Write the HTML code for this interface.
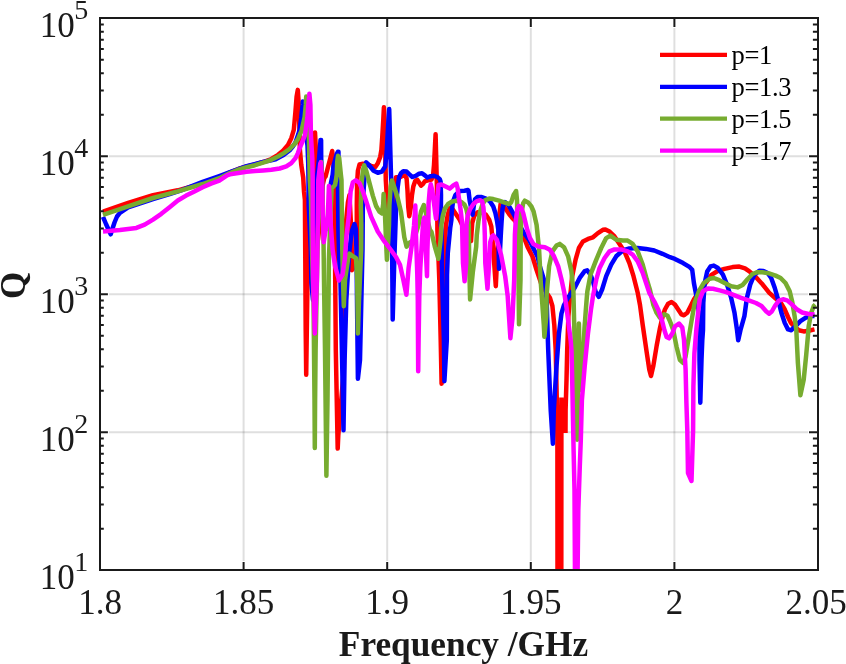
<!DOCTYPE html><html><head><meta charset="utf-8"><title>Q vs Frequency</title>
<style>html,body{margin:0;padding:0;background:#fff;}svg{display:block;font-family:"Liberation Serif",serif;}</style></head><body>
<svg width="846" height="664" viewBox="0 0 846 664">
<rect width="846" height="664" fill="#fff"/>
<g stroke="#000" stroke-opacity="0.125" stroke-width="2" fill="none"><path d="M243.6 28V561"/><path d="M387.2 28V561"/><path d="M530.8 28V561"/><path d="M674.4 28V561"/><path d="M109 432.3H808"/><path d="M109 294.3H808"/><path d="M109 156.3H808"/></g>
<clipPath id="c"><rect x="100" y="18" width="718" height="552"/></clipPath>
<g clip-path="url(#c)" fill="none" stroke-width="4.5" stroke-linejoin="round" stroke-linecap="butt">
<path d="M103.0 211.6L128.1 203.0L153.0 195.2L177.8 190.3L202.7 183.5L219.3 177.7L230.0 172.3L238.3 169.0L246.6 166.5L254.9 164.5L263.1 162.0L271.4 159.0L278.1 154.8L283.0 150.7L288.0 144.9L291.3 138.2L293.8 129.9L295.3 113.1L296.6 96.6L297.8 89.9L298.7 103.1L299.4 128.0L299.9 149.5L301.2 164.4L303.2 177.7L304.0 191.4L304.9 199.7L305.3 260.0L305.7 330.0L306.2 374.7L307.5 280.0L308.2 225.0L310.0 195.0L313.5 182.0L314.2 158.0L314.5 141.6L315.0 132.4L315.9 149.9L316.4 180.0L317.0 215.0L318.0 240.0L320.0 221.0L321.5 205.0L322.5 186.0L324.3 178.0L325.6 176.4L332.2 151.0L333.5 165.0L334.5 187.0L334.9 240.0L335.8 350.0L337.7 448.6L338.3 435.0L343.8 370.0L345.3 300.0L345.0 250.0L345.5 227.3L347.9 202.5L349.5 195.0L350.5 215.0L351.5 233.0L351.8 255.0L352.0 270.2L354.5 266.0L356.5 258.0L356.8 240.0L356.8 205.0L357.1 183.1L357.9 170.7L359.5 164.5L362.9 163.7L367.0 164.1L372.0 166.2L375.3 167.0L377.8 163.3L380.2 157.0L381.4 150.0L382.3 136.3L383.3 119.7L383.9 107.3L384.5 120.0L385.2 150.0L385.8 180.0L387.3 205.0L389.5 225.0L391.5 235.0L394.0 195.0L396.0 177.3L400.0 177.3L402.5 175.8L405.0 175.4L406.6 178.3L407.5 190.7L408.3 207.3L409.3 216.2L410.8 207.3L412.0 194.9L413.3 186.6L415.3 180.8L417.4 179.9L419.5 183.3L421.1 185.7L422.8 184.1L424.9 181.2L428.2 180.4L431.5 179.5L433.1 175.0L434.0 165.0L434.8 150.0L435.6 134.2L436.0 150.0L436.5 170.0L437.2 200.0L437.4 230.0L439.3 279.7L440.7 340.0L441.6 383.8L442.8 340.0L444.5 270.0L445.0 240.0L446.0 225.0L447.6 215.6L449.5 208.5L451.5 207.5L454.7 212.3L459.7 219.7L465.0 231.0L469.0 240.0L471.0 241.0L471.5 233.0L472.2 223.1L474.3 215.6L477.6 212.3L481.7 212.3L485.9 214.8L489.2 219.8L491.3 226.4L492.1 235.0L493.6 254.9L495.8 286.2L496.9 263.1L497.7 246.6L499.1 229.7L499.6 213.1L500.6 204.0L502.5 204.5L505.8 209.0L509.1 214.0L512.4 218.1L514.9 220.6L520.0 230.0L524.3 238.3L527.6 247.0L532.5 256.5L536.6 270.0L541.0 283.0L546.0 292.0L549.9 297.7L552.4 306.0L554.3 324.9L555.7 350.0L556.8 400.0L557.4 440.0L557.5 580.0M561.3 580.0L561.4 397.5M565.5 433.0L565.6 410.0L566.5 380.0L567.2 350.0L568.4 316.0L569.8 300.0L572.2 276.2L575.6 259.6L578.9 248.0L583.0 241.4L588.0 238.9L593.0 237.3L597.9 233.1L602.9 229.8L605.4 229.5L609.5 231.5L614.5 236.4L619.5 243.9L624.4 251.4L629.4 263.0L633.5 276.2L637.7 292.8L640.0 305.0L642.7 324.9L646.8 353.0L649.3 369.6L651.0 376.0L653.4 365.5L656.7 345.5L660.0 328.0L662.5 317.0L664.9 309.5L668.2 303.7L671.5 302.0L674.9 304.5L678.2 309.5L681.5 314.4L684.0 315.3L687.3 312.8L690.6 306.2L693.9 299.5L700.0 290.0L707.0 281.3L711.5 274.8L717.7 271.0L724.4 268.9L732.6 267.1L739.3 266.6L745.0 268.4L749.4 271.4L756.0 277.2L762.7 284.6L769.3 292.9L775.7 298.5L780.7 302.8L784.5 309.0L788.0 317.0L791.0 323.0L793.8 326.1L798.8 330.2L803.7 331.4L808.7 330.7L814.5 329.4" stroke="#ff0000"/>
<path d="M103.0 216.8L106.0 224.0L110.7 234.3L114.5 222.5L117.0 216.5L119.9 212.8L128.1 207.4L153.0 199.1L169.6 194.2L181.1 190.4L202.7 181.8L219.3 176.0L230.0 172.0L246.6 166.2L263.1 161.9L269.0 160.8L275.6 159.3L283.9 154.7L289.7 150.2L293.0 146.2L295.5 142.4L298.4 134.1L299.6 130.0L301.3 117.3L302.6 104.9L302.8 101.5L305.0 125.0L307.5 145.7L308.2 162.3L308.5 180.0L308.7 205.0L310.8 250.0L311.4 283.0L313.0 300.0L315.0 230.0L316.0 195.0L316.6 180.0L319.1 158.1L320.4 141.6L320.5 140.0L321.1 140.0L321.2 158.0L322.0 180.0L322.8 215.0L323.7 228.0L326.0 229.0L327.8 220.0L329.5 216.0L330.3 205.0L330.9 183.3L332.6 175.0L333.4 166.4L336.7 154.0L337.9 151.8L338.5 151.8L338.0 187.4L338.4 230.0L339.2 258.1L340.5 283.0L342.1 360.0L343.5 430.2L344.6 360.0L346.3 300.0L349.2 252.3L351.7 231.6L354.5 224.0L355.8 229.0L356.6 255.0L357.0 300.0L357.9 378.8L360.0 360.0L361.8 280.0L362.5 250.0L362.7 225.0L362.9 200.0L364.3 180.0L365.3 166.0L366.2 162.4L369.5 165.7L373.6 170.7L377.8 172.8L381.9 171.5L385.2 166.6L386.7 152.0L388.0 128.0L389.2 109.0L389.8 130.0L390.3 150.0L391.0 175.0L391.7 190.0L392.2 260.0L392.7 319.4L394.3 260.0L396.2 205.0L397.6 188.0L399.0 177.5L401.0 173.3L403.3 171.3L406.6 171.5L409.1 174.1L412.4 177.0L415.7 175.8L419.1 173.7L422.0 173.3L424.9 175.4L427.3 177.5L430.7 176.2L434.0 175.8L437.3 177.0L439.8 179.1L440.6 181.6L441.0 194.9L440.8 225.0L441.4 230.0L442.2 279.7L443.9 340.0L444.4 381.2L446.8 340.0L447.0 275.0L447.8 253.0L450.2 228.0L451.4 220.0L451.8 211.4L453.0 201.5L455.5 194.9L459.7 191.1L464.6 190.7L467.9 189.9L468.5 190.8L469.7 200.7L471.4 209.0L472.6 214.8L473.9 204.9L475.1 199.1L477.6 197.0L481.7 197.0L485.9 198.6L490.0 201.5L493.3 206.5L495.4 213.1L497.1 221.4L498.3 229.7L499.0 268.8L500.2 246.6L500.8 235.0L501.6 221.4L502.5 209.0L503.7 203.2L504.9 202.0L508.3 204.9L511.6 210.7L514.9 216.5L520.0 226.0L524.0 233.0L529.2 240.0L534.2 249.9L537.5 256.5L539.9 266.3L544.9 282.8L546.6 299.4L548.2 349.7L550.7 410.0L552.9 443.8L553.8 410.0L556.5 366.3L559.0 333.1L561.5 313.3L564.0 305.0L568.1 297.7L574.7 287.8L579.7 277.9L584.7 271.2L587.2 270.4L590.5 274.6L593.0 281.2L595.4 291.1L598.8 296.9L602.1 289.5L606.2 276.2L611.2 264.6L616.2 256.3L622.8 250.5L629.4 248.4L637.7 248.0L646.0 248.9L654.3 250.5L662.5 253.8L670.0 257.2L674.9 258.9L683.1 263.1L689.8 267.2L692.2 269.7L693.9 283.0L696.4 296.2L698.9 312.8L699.5 330.0L699.5 360.0L700.3 402.7L701.5 360.0L702.3 340.0L703.0 330.0L703.3 302.8L704.7 283.0L707.2 271.4L710.5 266.4L713.8 265.6L717.9 268.0L722.9 274.7L727.0 284.6L731.2 297.9L734.5 312.8L737.0 330.0L738.2 340.2L740.5 330.0L744.4 316.1L746.9 297.9L750.2 284.6L754.4 274.7L759.3 270.8L763.5 271.0L767.6 273.0L771.2 278.0L774.8 288.0L778.1 299.6L781.4 312.8L784.7 322.8L788.0 329.4L791.3 330.2L795.5 326.1L800.4 321.1L805.4 317.8L810.4 316.1L814.5 316.1" stroke="#0000ff"/>
<path d="M103.0 214.9L128.1 206.3L153.0 198.0L177.8 191.4L202.7 184.0L219.3 178.2L230.0 173.0L238.3 169.7L246.6 167.2L254.9 165.2L263.1 162.7L271.4 159.8L278.1 156.5L283.9 153.1L289.7 149.0L294.6 144.0L297.9 139.1L300.0 134.1L301.5 131.0L304.6 117.3L305.8 104.9L306.2 96.6L307.3 115.0L308.6 130.0L309.0 141.6L309.3 158.1L309.8 180.0L311.0 200.0L312.0 250.0L313.5 300.0L314.0 350.0L314.5 400.0L314.8 447.9L315.1 400.0L315.6 350.0L316.5 300.0L318.0 230.0L320.0 180.0L321.2 162.0L322.5 190.0L323.5 240.0L324.0 280.0L325.0 350.0L326.4 475.7L327.5 400.0L328.5 300.0L328.9 260.0L330.5 215.0L331.6 188.3L335.0 185.0L336.0 180.0L336.7 175.0L337.2 162.0L338.0 155.7L339.2 158.1L340.9 174.7L341.5 180.0L341.7 200.0L342.3 250.0L343.0 280.0L343.8 306.2L345.0 280.0L348.5 256.0L349.3 253.6L353.3 256.5L356.0 258.1L357.2 280.0L357.9 333.5L359.0 300.0L361.2 250.0L361.3 225.0L360.8 205.0L361.6 183.1L362.9 170.7L364.1 165.2L366.2 170.7L369.5 183.1L372.8 195.6L376.1 206.0L379.4 211.6L381.9 213.3L383.2 204.1L383.6 194.0L384.8 210.0L386.0 240.0L386.9 259.8L388.3 240.0L389.0 225.0L389.4 205.0L390.6 187.3L391.9 180.5L394.3 187.3L397.7 198.0L401.0 212.0L404.3 237.3L406.6 246.6L409.1 243.0L412.5 241.0L416.0 233.0L418.4 225.5L421.1 211.4L423.8 205.0L425.3 209.8L426.5 216.4L429.8 229.4L431.5 232.0L434.8 246.6L438.4 258.8L440.6 240.0L441.4 225.0L442.7 216.4L444.7 208.9L448.1 204.0L452.2 201.5L456.3 200.7L461.3 201.9L464.6 204.8L466.3 208.9L467.9 216.4L468.8 225.0L469.2 263.1L470.1 299.4L472.9 271.4L476.2 246.6L476.8 235.0L478.4 221.4L480.1 211.5L482.6 204.0L485.1 200.3L489.2 198.6L493.3 199.1L499.1 200.7L504.1 202.4L509.1 204.0L511.2 202.4L513.6 194.9L516.1 191.0L517.0 200.0L517.5 230.0L518.5 280.0L519.0 324.3L520.5 280.0L520.7 235.0L521.5 213.1L523.2 203.2L524.8 200.7L528.1 202.4L531.4 206.5L533.6 211.5L536.6 224.9L539.1 249.7L540.8 282.8L542.4 305.0L543.8 324.9L544.4 336.8L546.3 316.0L546.6 295.0L549.1 266.3L552.4 251.4L556.5 245.6L559.8 243.9L564.0 247.2L568.1 256.3L571.4 271.2L573.4 291.1L574.1 320.0L574.8 350.0L576.0 400.0L577.2 439.7L578.0 400.0L578.5 350.0L578.9 323.5L579.5 350.0L580.5 390.0L582.0 370.0L583.5 350.0L584.5 328.1L585.7 311.6L587.0 295.0L587.4 291.1L590.5 274.6L596.3 259.6L601.2 248.0L606.2 238.1L610.4 235.6L616.2 239.8L622.8 240.6L627.7 240.6L632.7 243.9L637.7 251.4L642.7 264.6L646.8 279.5L650.0 290.0L653.4 305.0L656.6 312.8L659.9 317.7L664.1 314.3L667.4 315.5L669.9 321.0L673.2 329.9L676.5 346.5L679.8 359.8L683.1 363.0L685.6 356.4L688.9 336.6L691.5 321.0L694.7 302.8L698.9 291.2L703.8 283.0L709.6 278.8L713.8 278.0L717.9 279.6L724.6 283.0L731.2 286.3L737.6 287.4L742.6 285.0L747.5 279.2L752.5 274.0L757.4 272.2L762.3 272.2L769.0 273.4L775.6 275.6L780.6 278.0L785.5 283.0L789.7 291.3L792.1 301.2L794.6 316.1L796.3 330.0L797.9 363.1L800.4 395.3L803.7 379.7L806.2 354.9L808.0 335.0L808.7 326.1L811.2 312.8L813.7 306.2L815.3 304.6" stroke="#77ac30"/>
<path d="M103.0 231.5L119.9 230.0L136.4 227.9L144.7 224.6L153.0 219.6L161.3 213.8L169.6 207.2L177.8 200.5L186.1 195.6L194.4 191.4L202.7 187.3L211.0 183.6L219.3 180.6L227.5 175.2L230.0 174.3L238.3 173.0L246.6 171.8L254.9 171.0L263.1 170.4L271.4 169.7L279.7 168.5L286.3 166.4L291.3 163.1L295.5 158.1L297.9 153.1L300.0 147.3L302.5 141.5L305.0 135.0L307.5 117.3L308.3 104.9L309.2 96.5L309.4 93.7L310.4 104.9L310.9 135.0L312.3 158.1L312.7 180.0L312.7 230.0L313.1 280.0L314.8 333.5L316.9 280.0L317.7 230.0L318.3 180.0L320.2 163.9L320.8 162.4L322.0 180.0L322.8 215.0L323.7 242.2L326.5 225.0L327.8 216.0L328.4 200.0L328.9 186.0L329.7 199.9L330.9 227.0L332.6 249.9L335.1 266.4L338.4 278.0L338.8 280.5L342.5 274.7L345.0 258.1L346.5 236.0L348.8 216.6L349.8 203.0L350.6 191.4L352.9 182.3L355.8 180.2L359.5 183.1L362.9 191.4L365.8 200.0L371.1 216.6L377.8 231.5L384.4 241.4L391.0 250.0L396.0 257.0L400.0 264.8L403.3 279.7L406.4 294.7L408.6 268.0L411.6 246.4L414.0 226.0L414.8 214.0L415.3 205.5L415.6 215.0L415.8 230.0L416.5 250.0L417.3 275.0L417.8 300.0L418.2 371.3L418.6 340.0L419.3 295.0L420.3 268.0L421.5 248.0L422.6 230.0L423.4 221.0L424.3 217.5L425.0 225.0L425.8 250.0L426.5 265.0L427.0 276.2L427.4 250.0L428.4 220.0L428.6 203.1L429.8 189.0L430.8 184.3L432.3 190.7L434.0 203.1L435.2 213.0L436.0 218.7L436.9 211.4L437.7 194.9L438.5 185.0L441.4 184.5L445.6 186.6L449.7 188.6L453.0 185.7L456.3 183.5L457.6 188.0L458.8 197.3L460.5 208.9L462.0 222.0L463.0 263.1L464.6 281.2L466.3 263.1L466.5 225.0L467.7 215.6L470.1 209.0L473.5 204.0L476.8 201.1L480.1 200.3L482.2 201.5L483.4 207.3L484.2 217.3L484.8 235.0L485.3 263.1L487.5 288.7L489.1 263.1L490.3 242.0L492.0 236.5L493.3 235.3L496.9 239.9L501.1 254.9L505.2 276.4L507.7 296.3L509.3 321.1L510.4 338.2L512.5 318.0L514.2 279.7L514.9 235.0L515.7 221.4L517.4 209.0L519.0 206.0L521.1 207.5L523.2 213.1L525.2 221.4L527.3 230.0L530.0 238.1L533.3 243.9L538.3 246.4L544.9 247.2L549.9 249.7L554.0 256.3L558.2 266.3L561.5 279.5L564.3 292.8L566.5 307.4L568.6 324.0L570.7 340.6L571.5 350.0L572.2 380.0L572.6 400.0L573.6 450.0L574.5 490.0L575.0 580.0L577.5 580.0L578.3 510.0L579.8 466.0L580.8 440.0L581.9 400.0L584.7 366.3L588.0 333.1L590.9 310.0L593.0 296.1L596.3 279.5L599.6 267.9L604.6 258.0L609.5 251.4L614.5 249.4L621.1 249.4L627.7 251.4L632.7 254.7L637.7 261.3L642.7 272.9L646.0 282.8L649.3 292.8L654.3 301.5L658.4 310.0L662.0 320.5L664.5 330.5L666.6 337.0L669.1 338.3L672.4 333.3L674.9 326.5L679.0 323.5L682.3 327.5L684.0 339.9L685.6 369.7L686.4 402.8L687.3 430.0L688.0 473.0L691.5 481.0L693.1 430.0L693.4 386.3L694.4 353.1L696.4 329.0L698.0 314.0L699.7 299.5L703.0 291.2L708.0 288.4L713.0 288.8L719.6 290.4L726.2 292.1L732.8 294.6L741.1 297.9L749.4 300.6L756.0 303.0L761.5 306.0L766.3 311.5L769.1 313.6L771.8 311.5L775.2 305.5L778.9 300.6L783.0 299.3L787.2 300.4L792.1 304.6L797.1 309.5L802.1 312.5L808.7 314.0L814.5 314.5" stroke="#ff00ff"/>
</g>
<path d="M243.6 570v-7.9M243.6 18v9.0M387.2 570v-7.9M387.2 18v9.0M530.8 570v-7.9M530.8 18v9.0M674.4 570v-7.9M674.4 18v9.0M100 528.8h3.8M818 528.8h-5.1M100 504.5h3.8M818 504.5h-5.1M100 487.2h3.8M818 487.2h-5.1M100 473.8h3.8M818 473.8h-5.1M100 462.9h3.8M818 462.9h-5.1M100 453.7h3.8M818 453.7h-5.1M100 445.7h3.8M818 445.7h-5.1M100 438.6h3.8M818 438.6h-5.1M100 432.3h7.9M818 432.3h-9.0M100 390.8h3.8M818 390.8h-5.1M100 366.5h3.8M818 366.5h-5.1M100 349.2h3.8M818 349.2h-5.1M100 335.8h3.8M818 335.8h-5.1M100 324.9h3.8M818 324.9h-5.1M100 315.7h3.8M818 315.7h-5.1M100 307.7h3.8M818 307.7h-5.1M100 300.6h3.8M818 300.6h-5.1M100 294.3h7.9M818 294.3h-9.0M100 252.8h3.8M818 252.8h-5.1M100 228.5h3.8M818 228.5h-5.1M100 211.2h3.8M818 211.2h-5.1M100 197.8h3.8M818 197.8h-5.1M100 186.9h3.8M818 186.9h-5.1M100 177.7h3.8M818 177.7h-5.1M100 169.7h3.8M818 169.7h-5.1M100 162.6h3.8M818 162.6h-5.1M100 156.3h7.9M818 156.3h-9.0M100 114.8h3.8M818 114.8h-5.1M100 90.5h3.8M818 90.5h-5.1M100 73.2h3.8M818 73.2h-5.1M100 59.8h3.8M818 59.8h-5.1M100 48.9h3.8M818 48.9h-5.1M100 39.7h3.8M818 39.7h-5.1M100 31.7h3.8M818 31.7h-5.1M100 24.6h3.8M818 24.6h-5.1" stroke="#1a1a1a" stroke-width="2" fill="none"/>
<rect x="100" y="18" width="718" height="552" fill="none" stroke="#1a1a1a" stroke-width="2"/>
<g fill="#1a1a1a" font-size="35px">
<text x="100.0" y="613.5" text-anchor="middle">1.8</text>
<text x="243.6" y="613.5" text-anchor="middle">1.85</text>
<text x="387.2" y="613.5" text-anchor="middle">1.9</text>
<text x="530.8" y="613.5" text-anchor="middle">1.95</text>
<text x="674.4" y="613.5" text-anchor="middle">2</text>
<text x="816.0" y="613.5" text-anchor="middle">2.05</text>
<text x="74.8" y="589.0" text-anchor="end">10</text>
<text x="74.2" y="570.7" font-size="28px">1</text>
<text x="74.8" y="451.3" text-anchor="end">10</text>
<text x="74.2" y="433.0" font-size="28px">2</text>
<text x="74.8" y="313.3" text-anchor="end">10</text>
<text x="74.2" y="295.0" font-size="28px">3</text>
<text x="74.8" y="175.3" text-anchor="end">10</text>
<text x="74.2" y="157.0" font-size="28px">4</text>
<text x="74.8" y="37.0" text-anchor="end">10</text>
<text x="74.2" y="18.7" font-size="28px">5</text>
</g>
<text x="463.5" y="656" text-anchor="middle" font-size="35.3px" font-weight="bold" fill="#1a1a1a">Frequency /GHz</text>
<text transform="translate(24.7,285.5) rotate(-90)" text-anchor="middle" font-size="35px" font-weight="bold" fill="#1a1a1a">Q</text>
<g stroke-width="4.3" fill="none">
<path d="M660 54.9H727" stroke="#ff0000"/>
<path d="M660 86.8H727" stroke="#0000ff"/>
<path d="M660 118.7H727" stroke="#77ac30"/>
<path d="M660 150.6H727" stroke="#ff00ff"/>
</g>
<g fill="#000" font-size="26.5px" letter-spacing="-0.35">
<text x="731.5" y="63.9">p=1</text>
<text x="731.5" y="95.8">p=1.3</text>
<text x="731.5" y="127.7">p=1.5</text>
<text x="731.5" y="159.6">p=1.7</text>
</g>
</svg></body></html>
